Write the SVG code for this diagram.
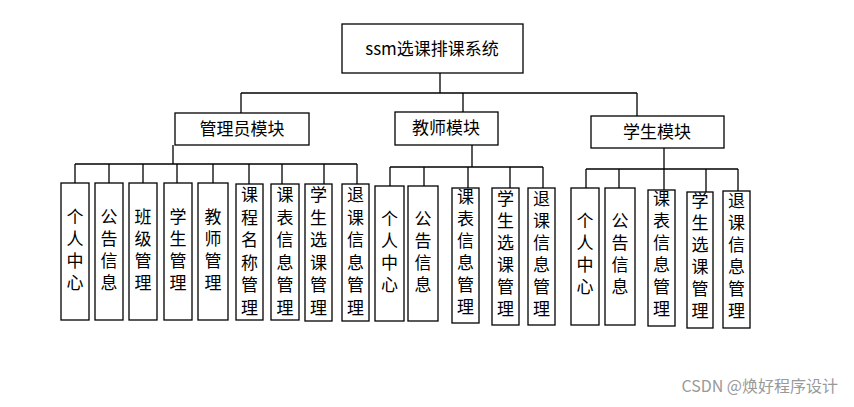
<svg xmlns="http://www.w3.org/2000/svg" width="854" height="407" viewBox="0 0 854 407">
<style>
rect{fill:#fff;stroke:#000;stroke-width:1.3}
line{stroke:#000;stroke-width:1.3}
text{font-family:"Noto Sans CJK SC","Liberation Serif",serif;font-size:17px;fill:#000;text-anchor:middle}
</style>
<rect width="854" height="407" style="fill:#fff;stroke:none"/>
<g id="connectors">
<line x1="440" y1="73" x2="440" y2="93"/><line x1="241" y1="93" x2="637" y2="93"/>
<line x1="241" y1="93" x2="241" y2="113"/><line x1="463" y1="93" x2="463" y2="112"/><line x1="637" y1="93" x2="637" y2="116"/>
<line x1="173" y1="145" x2="173" y2="164"/><line x1="75" y1="164" x2="357" y2="164"/>
<line x1="75" y1="164" x2="75" y2="183"/><line x1="109" y1="164" x2="109" y2="183"/><line x1="143" y1="164" x2="143" y2="183"/><line x1="177" y1="164" x2="177" y2="183"/><line x1="213" y1="164" x2="213" y2="183"/><line x1="249" y1="164" x2="249" y2="184"/><line x1="282" y1="164" x2="282" y2="184"/><line x1="324" y1="164" x2="324" y2="184"/><line x1="357" y1="164" x2="357" y2="184"/>
<line x1="472" y1="145" x2="472" y2="167"/><line x1="390" y1="167" x2="543" y2="167"/>
<line x1="390" y1="167" x2="390" y2="186"/><line x1="424" y1="167" x2="424" y2="186"/><line x1="468" y1="167" x2="468" y2="188"/><line x1="510" y1="167" x2="510" y2="188"/><line x1="543" y1="167" x2="543" y2="188"/>
<line x1="664" y1="148" x2="664" y2="169"/><line x1="586" y1="169" x2="738" y2="169"/>
<line x1="586" y1="169" x2="586" y2="188"/><line x1="619" y1="169" x2="619" y2="188"/><line x1="664" y1="169" x2="664" y2="190"/><line x1="706" y1="169" x2="706" y2="192"/><line x1="738" y1="169" x2="738" y2="191"/>
</g>
<g id="root"><rect x="342" y="24" width="181" height="49"/><text x="432" y="55">ssm选课排课系统</text></g>
<g id="admin"><rect x="175" y="113" width="134" height="32"/><text x="242" y="135">管理员模块</text></g>
<g id="teacher"><rect x="395" y="112" width="103" height="33"/><text x="446" y="134">教师模块</text></g>
<g id="student"><rect x="591" y="116" width="133" height="32"/><text x="657" y="138">学生模块</text></g>
<g id="a1"><rect x="61" y="183" width="28" height="137"/><text x="75" y="223"><tspan x="75">个</tspan><tspan x="75" dy="22">人</tspan><tspan x="75" dy="22">中</tspan><tspan x="75" dy="22">心</tspan></text></g>
<g id="a2"><rect x="95" y="183" width="28" height="137"/><text x="109" y="223"><tspan x="109">公</tspan><tspan x="109" dy="22">告</tspan><tspan x="109" dy="22">信</tspan><tspan x="109" dy="22">息</tspan></text></g>
<g id="a3"><rect x="129" y="183" width="28" height="137"/><text x="143" y="223"><tspan x="143">班</tspan><tspan x="143" dy="22">级</tspan><tspan x="143" dy="22">管</tspan><tspan x="143" dy="22">理</tspan></text></g>
<g id="a4"><rect x="164" y="183" width="28" height="137"/><text x="178" y="223"><tspan x="178">学</tspan><tspan x="178" dy="22">生</tspan><tspan x="178" dy="22">管</tspan><tspan x="178" dy="22">理</tspan></text></g>
<g id="a5"><rect x="198" y="183" width="30" height="137"/><text x="213" y="223"><tspan x="213">教</tspan><tspan x="213" dy="22">师</tspan><tspan x="213" dy="22">管</tspan><tspan x="213" dy="22">理</tspan></text></g>
<g id="a6"><rect x="236" y="184" width="27" height="136"/><text x="249.5" y="201"><tspan x="249.5">课</tspan><tspan x="249.5" dy="22.5">程</tspan><tspan x="249.5" dy="22.5">名</tspan><tspan x="249.5" dy="22.5">称</tspan><tspan x="249.5" dy="22.5">管</tspan><tspan x="249.5" dy="22.5">理</tspan></text></g>
<g id="a7"><rect x="271" y="184" width="28" height="136"/><text x="285" y="201"><tspan x="285">课</tspan><tspan x="285" dy="22.5">表</tspan><tspan x="285" dy="22.5">信</tspan><tspan x="285" dy="22.5">息</tspan><tspan x="285" dy="22.5">管</tspan><tspan x="285" dy="22.5">理</tspan></text></g>
<g id="a8"><rect x="305" y="184" width="27" height="137"/><text x="318.5" y="201"><tspan x="318.5">学</tspan><tspan x="318.5" dy="22.5">生</tspan><tspan x="318.5" dy="22.5">选</tspan><tspan x="318.5" dy="22.5">课</tspan><tspan x="318.5" dy="22.5">管</tspan><tspan x="318.5" dy="22.5">理</tspan></text></g>
<g id="a9"><rect x="342" y="184" width="27" height="137"/><text x="355.5" y="201"><tspan x="355.5">退</tspan><tspan x="355.5" dy="22.5">课</tspan><tspan x="355.5" dy="22.5">信</tspan><tspan x="355.5" dy="22.5">息</tspan><tspan x="355.5" dy="22.5">管</tspan><tspan x="355.5" dy="22.5">理</tspan></text></g>
<g id="t1"><rect x="375" y="186" width="29" height="135"/><text x="389.5" y="225"><tspan x="389.5">个</tspan><tspan x="389.5" dy="22">人</tspan><tspan x="389.5" dy="22">中</tspan><tspan x="389.5" dy="22">心</tspan></text></g>
<g id="t2"><rect x="408" y="186" width="30" height="135"/><text x="423" y="225"><tspan x="423">公</tspan><tspan x="423" dy="22">告</tspan><tspan x="423" dy="22">信</tspan><tspan x="423" dy="22">息</tspan></text></g>
<g id="t3"><rect x="452" y="188" width="27" height="135"/><text x="465.5" y="203"><tspan x="465.5">课</tspan><tspan x="465.5" dy="22">表</tspan><tspan x="465.5" dy="22">信</tspan><tspan x="465.5" dy="22">息</tspan><tspan x="465.5" dy="22">管</tspan><tspan x="465.5" dy="22">理</tspan></text></g>
<g id="t4"><rect x="492" y="188" width="27" height="137"/><text x="505.5" y="205"><tspan x="505.5">学</tspan><tspan x="505.5" dy="22">生</tspan><tspan x="505.5" dy="22">选</tspan><tspan x="505.5" dy="22">课</tspan><tspan x="505.5" dy="22">管</tspan><tspan x="505.5" dy="22">理</tspan></text></g>
<g id="t5"><rect x="528" y="188" width="27" height="137"/><text x="541.5" y="205"><tspan x="541.5">退</tspan><tspan x="541.5" dy="22">课</tspan><tspan x="541.5" dy="22">信</tspan><tspan x="541.5" dy="22">息</tspan><tspan x="541.5" dy="22">管</tspan><tspan x="541.5" dy="22">理</tspan></text></g>
<g id="s1"><rect x="571" y="188" width="28" height="137"/><text x="585" y="227"><tspan x="585">个</tspan><tspan x="585" dy="22">人</tspan><tspan x="585" dy="22">中</tspan><tspan x="585" dy="22">心</tspan></text></g>
<g id="s2"><rect x="605" y="188" width="30" height="137"/><text x="620" y="227"><tspan x="620">公</tspan><tspan x="620" dy="22">告</tspan><tspan x="620" dy="22">信</tspan><tspan x="620" dy="22">息</tspan></text></g>
<g id="s3"><rect x="648" y="190" width="27" height="136"/><text x="661.5" y="205"><tspan x="661.5">课</tspan><tspan x="661.5" dy="22">表</tspan><tspan x="661.5" dy="22">信</tspan><tspan x="661.5" dy="22">息</tspan><tspan x="661.5" dy="22">管</tspan><tspan x="661.5" dy="22">理</tspan></text></g>
<g id="s4"><rect x="687" y="192" width="26" height="136"/><text x="700" y="207"><tspan x="700">学</tspan><tspan x="700" dy="22">生</tspan><tspan x="700" dy="22">选</tspan><tspan x="700" dy="22">课</tspan><tspan x="700" dy="22">管</tspan><tspan x="700" dy="22">理</tspan></text></g>
<g id="s5"><rect x="723" y="191" width="27" height="137"/><text x="736.5" y="207"><tspan x="736.5">退</tspan><tspan x="736.5" dy="22">课</tspan><tspan x="736.5" dy="22">信</tspan><tspan x="736.5" dy="22">息</tspan><tspan x="736.5" dy="22">管</tspan><tspan x="736.5" dy="22">理</tspan></text></g>
<text x="838" y="392" style="text-anchor:end;font-size:16px;fill:#999">CSDN @焕好程序设计</text>
</svg>
